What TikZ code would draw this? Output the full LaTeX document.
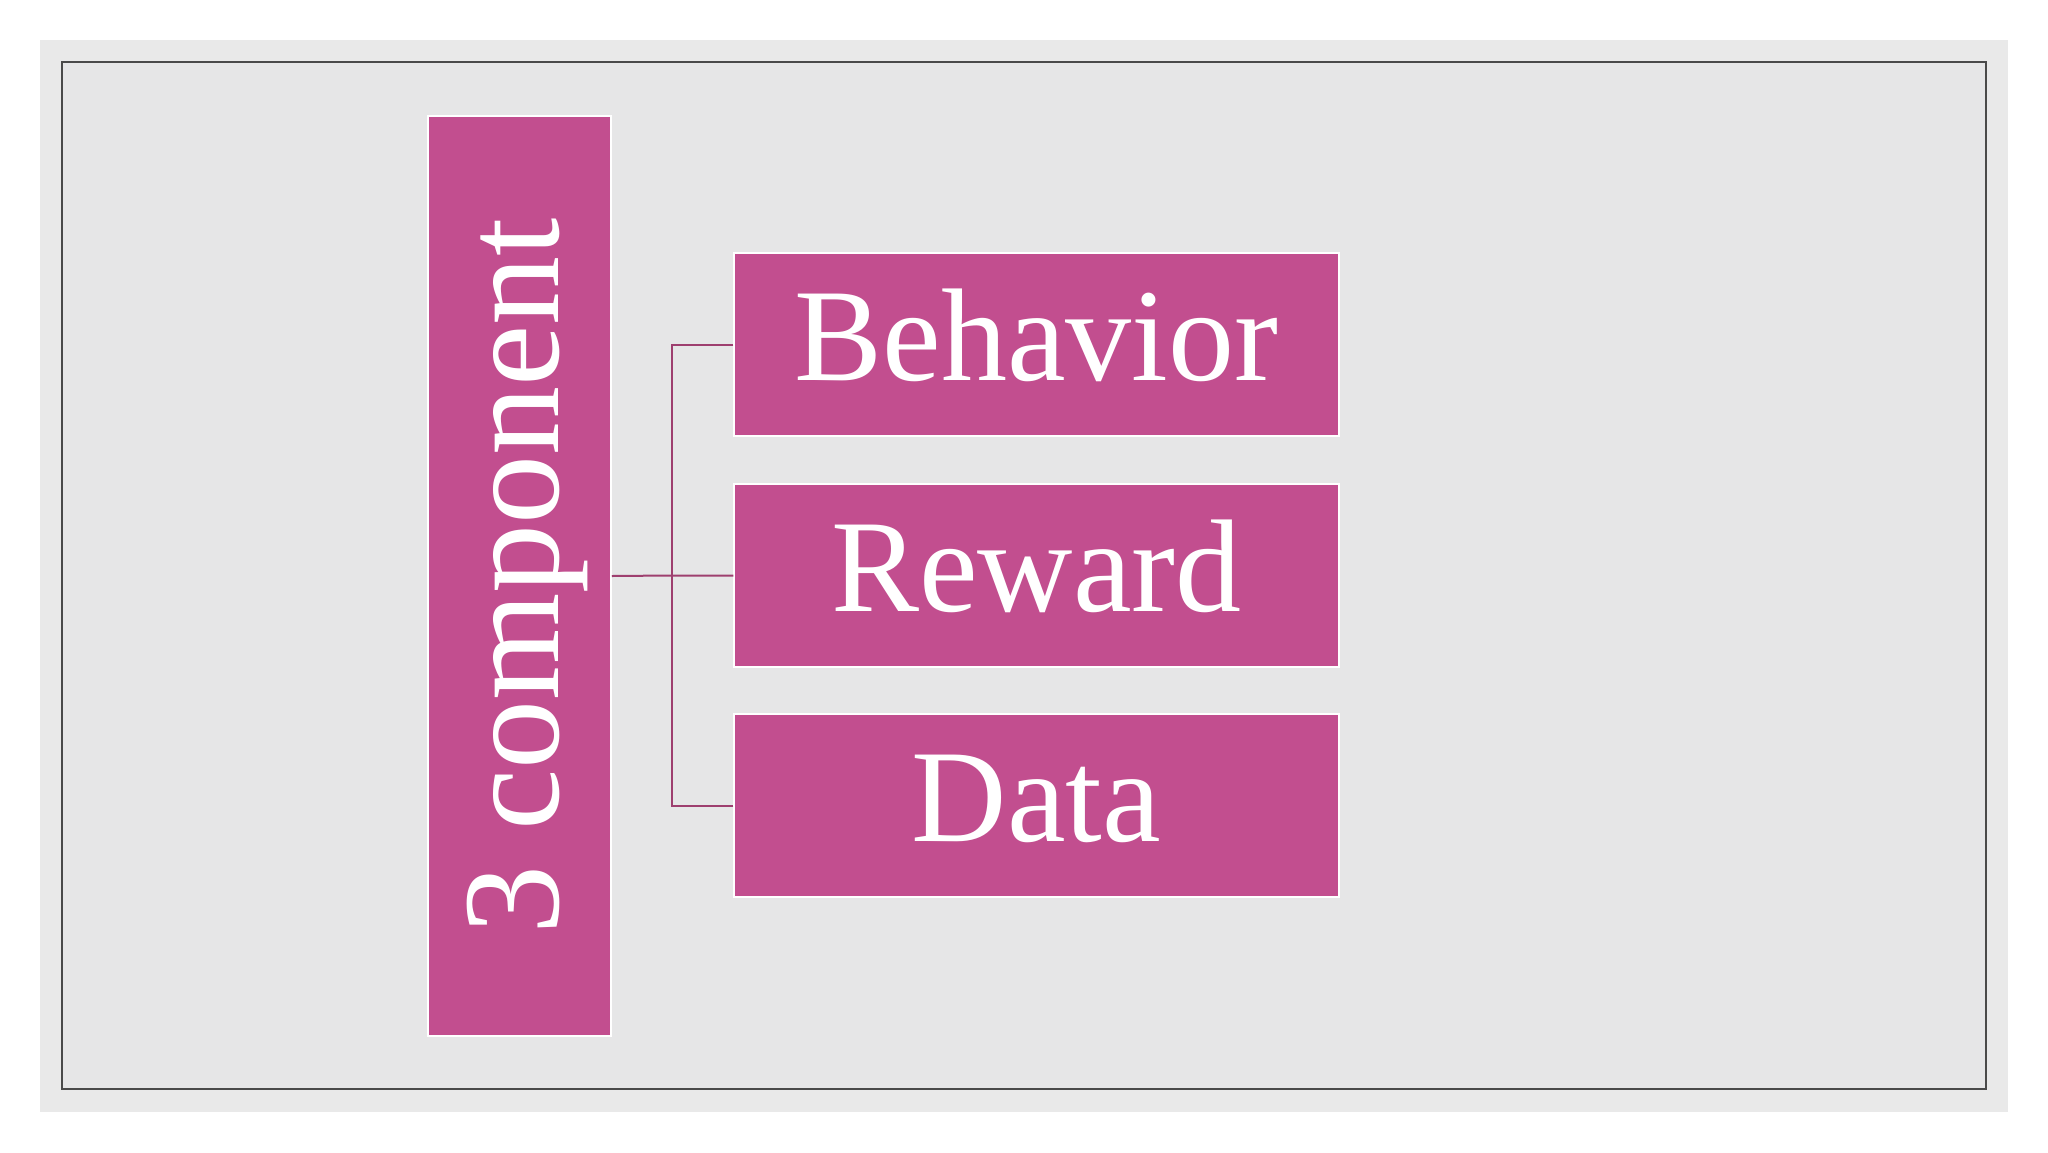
\documentclass[tikz,border=0pt]{standalone}
\usepackage{fontspec}
\setmainfont{Liberation Serif}
\definecolor{boxpink}{HTML}{C24E8F}
\definecolor{outerg}{HTML}{E9E9E9}
\definecolor{innerg}{HTML}{E6E6E7}
\definecolor{framec}{HTML}{4A4A4A}
\definecolor{connc}{HTML}{9E3F6F}
\begin{document}
\begin{tikzpicture}[x=1pt,y=-1pt,
  box/.style={draw=white, line width=1.5pt, fill=boxpink, text=white,
    font=\fontsize{132}{132}\selectfont, inner sep=0pt, anchor=center},
  rbox/.style={box, minimum width=605pt, minimum height=183pt, text height=95pt, text depth=24pt},
  conn/.style={draw=connc, line width=2pt}]
\fill[white] (0,0) rectangle (2048,1152);
\useasboundingbox (0,0) rectangle (2048,1152);
\fill[outerg] (40,40) rectangle (2008,1112);
\draw[framec, line width=1.8pt, fill=innerg] (62,62) rectangle (1986,1089);
\node[box, minimum width=183pt, minimum height=920pt, font=\fontsize{138}{138}\selectfont] (left) at (519.5,576) {\hspace*{16pt}\rotatebox{90}{3 component}};
\node[rbox] (beh) at (1036.5,344.5) {Behavior};
\node[rbox] (rew) at (1036.5,575.5) {Reward};
\node[rbox] (dat) at (1036.5,805.5) {Data};
\coordinate (j) at (672,575.5);
\draw[conn] (left.east) -- (j) -- (rew.west);
\draw[conn] (beh.west) -| (j);
\draw[conn] (dat.west) -| (j);
\end{tikzpicture}
\end{document}
